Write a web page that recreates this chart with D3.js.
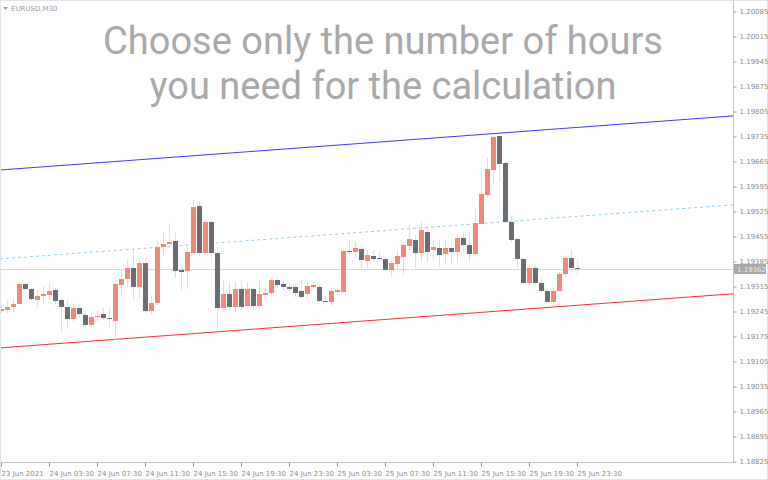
<!DOCTYPE html>
<html><head><meta charset="utf-8">
<script src="https://cdn.jsdelivr.net/npm/d3@7"></script>
<style>html,body{margin:0;padding:0;background:#fff;}svg{display:block;}</style>
</head><body>
<script>
const symbolLabel = "EURUSD,M30";
const titleLines = ["Choose only the number of hours", "you need for the calculation"];
const open  = [1.19245,1.19248,1.19256,1.19265,1.19321,1.19307,1.19276,1.19287,1.19290,1.19304,1.19276,1.19256,1.19223,1.19253,1.19234,1.19206,1.19228,1.19237,1.19225,1.19217,1.19318,1.19335,1.19365,1.19312,1.19379,1.19245,1.19267,1.19424,1.19433,1.19441,1.19360,1.19357,1.19407,1.19539,1.19407,1.19494,1.19407,1.19253,1.19293,1.19256,1.19307,1.19259,1.19307,1.19259,1.19290,1.19295,1.19332,1.19321,1.19312,1.19312,1.19301,1.19293,1.19312,1.19312,1.19273,1.19270,1.19298,1.19298,1.19413,1.19410,1.19419,1.19385,1.19399,1.19393,1.19391,1.19360,1.19377,1.19396,1.19427,1.19444,1.19407,1.19466,1.19416,1.19421,1.19405,1.19421,1.19410,1.19449,1.19430,1.19405,1.19489,1.19570,1.19640,1.19735,1.19659,1.19494,1.19447,1.19391,1.19323,1.19365,1.19323,1.19301,1.19270,1.19301,1.19349,1.19393,1.19365];
const high  = [1.19262,1.19276,1.19281,1.19326,1.19326,1.19309,1.19304,1.19315,1.19323,1.19309,1.19281,1.19276,1.19265,1.19262,1.19248,1.19239,1.19248,1.19253,1.19253,1.19323,1.19360,1.19388,1.19421,1.19388,1.19393,1.19290,1.19444,1.19466,1.19491,1.19466,1.19374,1.19424,1.19556,1.19553,1.19500,1.19497,1.19424,1.19332,1.19326,1.19326,1.19332,1.19326,1.19312,1.19332,1.19312,1.19337,1.19337,1.19332,1.19326,1.19323,1.19332,1.19326,1.19326,1.19318,1.19287,1.19307,1.19312,1.19416,1.19444,1.19438,1.19430,1.19416,1.19416,1.19410,1.19393,1.19388,1.19416,1.19435,1.19486,1.19458,1.19494,1.19477,1.19444,1.19444,1.19444,1.19430,1.19458,1.19466,1.19466,1.19533,1.19648,1.19673,1.19738,1.19738,1.19662,1.19514,1.19449,1.19396,1.19374,1.19374,1.19340,1.19309,1.19309,1.19354,1.19396,1.19416,1.19388];
const low   = [1.19239,1.19239,1.19239,1.19262,1.19304,1.19276,1.19256,1.19267,1.19276,1.19262,1.19183,1.19197,1.19214,1.19225,1.19200,1.19200,1.19214,1.19220,1.19200,1.19164,1.19284,1.19312,1.19276,1.19281,1.19239,1.19237,1.19262,1.19402,1.19421,1.19337,1.19304,1.19307,1.19402,1.19399,1.19402,1.19396,1.19192,1.19242,1.19239,1.19239,1.19248,1.19256,1.19253,1.19253,1.19276,1.19290,1.19309,1.19304,1.19298,1.19284,1.19281,1.19276,1.19304,1.19270,1.19262,1.19259,1.19287,1.19295,1.19399,1.19393,1.19365,1.19365,1.19382,1.19382,1.19357,1.19340,1.19360,1.19346,1.19416,1.19360,1.19382,1.19382,1.19388,1.19368,1.19374,1.19374,1.19382,1.19410,1.19382,1.19402,1.19486,1.19564,1.19598,1.19606,1.19491,1.19438,1.19360,1.19321,1.19318,1.19318,1.19298,1.19267,1.19256,1.19298,1.19340,1.19351,1.19346];
const close = [1.19251,1.19256,1.19265,1.19321,1.19307,1.19279,1.19287,1.19293,1.19301,1.19273,1.19256,1.19223,1.19253,1.19237,1.19206,1.19228,1.19231,1.19225,1.19223,1.19321,1.19335,1.19365,1.19312,1.19379,1.19245,1.19267,1.19424,1.19433,1.19438,1.19357,1.19354,1.19410,1.19536,1.19407,1.19494,1.19407,1.19253,1.19293,1.19256,1.19307,1.19256,1.19307,1.19259,1.19293,1.19295,1.19332,1.19318,1.19312,1.19307,1.19295,1.19284,1.19315,1.19318,1.19273,1.19270,1.19301,1.19304,1.19413,1.19410,1.19421,1.19388,1.19402,1.19391,1.19391,1.19360,1.19379,1.19399,1.19430,1.19447,1.19407,1.19472,1.19410,1.19424,1.19402,1.19421,1.19410,1.19449,1.19430,1.19405,1.19491,1.19573,1.19643,1.19732,1.19657,1.19494,1.19444,1.19391,1.19323,1.19365,1.19323,1.19301,1.19270,1.19301,1.19349,1.19393,1.19365,1.19362];
const yTickValues = [1.20085,1.20015,1.19945,1.19875,1.19805,1.19735,1.19665,1.19595,1.19525,1.19455,1.19385,1.19315,1.19245,1.19175,1.19105,1.19035,1.18965,1.18895,1.18825];
const xTickIndex  = [0,8,16,24,32,40,48,56,64,72,80,88,96];
const xTickLabels = ["23 Jun 2021","24 Jun 03:30","24 Jun 07:30","24 Jun 11:30","24 Jun 15:30","24 Jun 19:30","24 Jun 23:30","25 Jun 03:30","25 Jun 07:30","25 Jun 11:30","25 Jun 15:30","25 Jun 19:30","25 Jun 23:30"];
// channel anchors: [index, price] at bar 0 and bar 96
const channelUpper = [[0,1.19640],[96,1.19759]];
const channelMid   = [[0,1.19391],[96,1.19510]];
const channelLower = [[0,1.19142],[96,1.19261]];
const lastPrice = 1.19362;

const W = 768, H = 480;
const plotRight = 733, plotBottom = 462;
const svg = d3.select("body").append("svg").attr("width", W).attr("height", H);
svg.append("rect").attr("width", W).attr("height", H).attr("fill", "#ffffff");

const x = d3.scaleLinear().domain([0, 96]).range([1, 577]);
const y = d3.scaleLinear().domain([1.18825, 1.20085]).range([461, 11]);

svg.append("clipPath").attr("id","pc").append("rect")
  .attr("x",0).attr("y",0).attr("width",plotRight).attr("height",plotBottom);
const plot = svg.append("g").attr("clip-path","url(#pc)");

// title
const title = plot.append("text").attr("text-anchor","middle")
  .attr("font-family","Roboto, 'Open Sans', sans-serif").attr("font-size",38)
  .attr("fill","#a8a8a8");
titleLines.forEach((t,i)=>{
  title.append("tspan").attr("x",383).attr("y",i===0?54:99).text(t);
});

// current price line
plot.append("line").attr("x1",0).attr("x2",plotRight)
  .attr("y1",Math.round(y(lastPrice))+0.5).attr("y2",Math.round(y(lastPrice))+0.5)
  .attr("stroke","#d9d9d9").attr("stroke-width",1);

// channel lines extended across plot
function extLine(anchors){
  const [[i0,p0],[i1,p1]] = anchors;
  const slope = (p1-p0)/(i1-i0);
  const iL = x.invert(0), iR = x.invert(plotRight);
  return [[0, y(p0 + slope*(iL-i0))],[plotRight, y(p0 + slope*(iR-i0))]];
}
function drawChan(anchors, color, dash){
  const pts = extLine(anchors);
  const l = plot.append("line").attr("x1",pts[0][0]).attr("y1",pts[0][1])
    .attr("x2",pts[1][0]).attr("y2",pts[1][1]).attr("stroke",color).attr("stroke-width",1);
  if(dash) l.attr("stroke-dasharray",dash);
}
drawChan(channelMid, "#8fd0f0", "3,3");
drawChan(channelUpper, "#3c3cf0", null);
drawChan(channelLower, "#f03030", null);

// candles
const idx = d3.range(open.length);
const bull = "#f08878", bear = "#6a6e73", wickCol = "#dcdfe6";
plot.selectAll("rect.wick").data(idx).join("rect").attr("class","wick")
  .attr("x", i=>Math.round(x(i))).attr("width",1)
  .attr("y", i=>Math.round(y(high[i]))).attr("height", i=>Math.max(1,Math.round(y(low[i]))-Math.round(y(high[i]))))
  .attr("fill", wickCol);
plot.selectAll("rect.body").data(idx).join("rect").attr("class","body")
  .attr("x", i=>Math.round(x(i))-2).attr("width",5)
  .attr("y", i=>Math.round(y(Math.max(open[i],close[i]))))
  .attr("height", i=>Math.max(1,Math.round(y(Math.min(open[i],close[i])))-Math.round(y(Math.max(open[i],close[i])))))
  .attr("fill", i=> close[i]>=open[i] ? bull : bear);

// frame
const frame = svg.append("g").attr("stroke","#c4c4c4").attr("stroke-width",1).attr("fill","none");
frame.append("line").attr("x1",0.5).attr("x2",0.5).attr("y1",0).attr("y2",plotBottom+0.5);
frame.append("line").attr("x1",plotRight+0.5).attr("x2",plotRight+0.5).attr("y1",0).attr("y2",plotBottom+0.5);
frame.append("line").attr("x1",0).attr("x2",plotRight+0.5).attr("y1",plotBottom+0.5).attr("y2",plotBottom+0.5);
frame.append("rect").attr("x",0.5).attr("y",0.5).attr("width",W-1).attr("height",H-1).attr("stroke","#e4e4e4");

// y axis (right)
const yAxis = d3.axisRight(y).tickValues(yTickValues).tickFormat(d3.format(".5f")).tickSize(3).tickPadding(3);
const ya = svg.append("g").attr("transform",`translate(${plotRight+0.5},0.5)`).call(yAxis);
ya.select(".domain").remove();
ya.selectAll("line").attr("stroke","#9a9a9a");
ya.selectAll("text").attr("fill","#8a8a8a").attr("font-family","'DejaVu Sans', sans-serif").attr("font-size",7);

// x axis (bottom)
const xa = svg.append("g").attr("transform",`translate(0.5,${plotBottom+0.5})`);
xTickIndex.forEach((ti,k)=>{
  const px = Math.round(x(ti));
  xa.append("line").attr("x1",px).attr("x2",px).attr("y1",0).attr("y2",4).attr("stroke","#9a9a9a");
  xa.append("text").attr("x",px).attr("y",13).attr("fill","#8a8a8a")
    .attr("font-family","'DejaVu Sans', sans-serif").attr("font-size",7).text(xTickLabels[k]);
});

// last price label box
const ly = Math.round(y(lastPrice));
svg.append("rect").attr("x",plotRight+1).attr("y",ly-5).attr("width",32).attr("height",10).attr("fill","#a8a8a8");
svg.append("text").attr("x",plotRight+4).attr("y",ly+3).attr("fill","#f0f0f0")
  .attr("font-family","'DejaVu Sans', sans-serif").attr("font-size",7).text(d3.format(".5f")(lastPrice));

// symbol label
svg.append("path").attr("d",d3.line()([[3,7],[8,7],[5.5,10]])+"Z").attr("fill","#9a9a9a");
svg.append("text").attr("x",11).attr("y",11).attr("fill","#9a9a9a")
  .attr("font-family","'DejaVu Sans', sans-serif").attr("font-size",7).text(symbolLabel);
</script>
</body></html>
